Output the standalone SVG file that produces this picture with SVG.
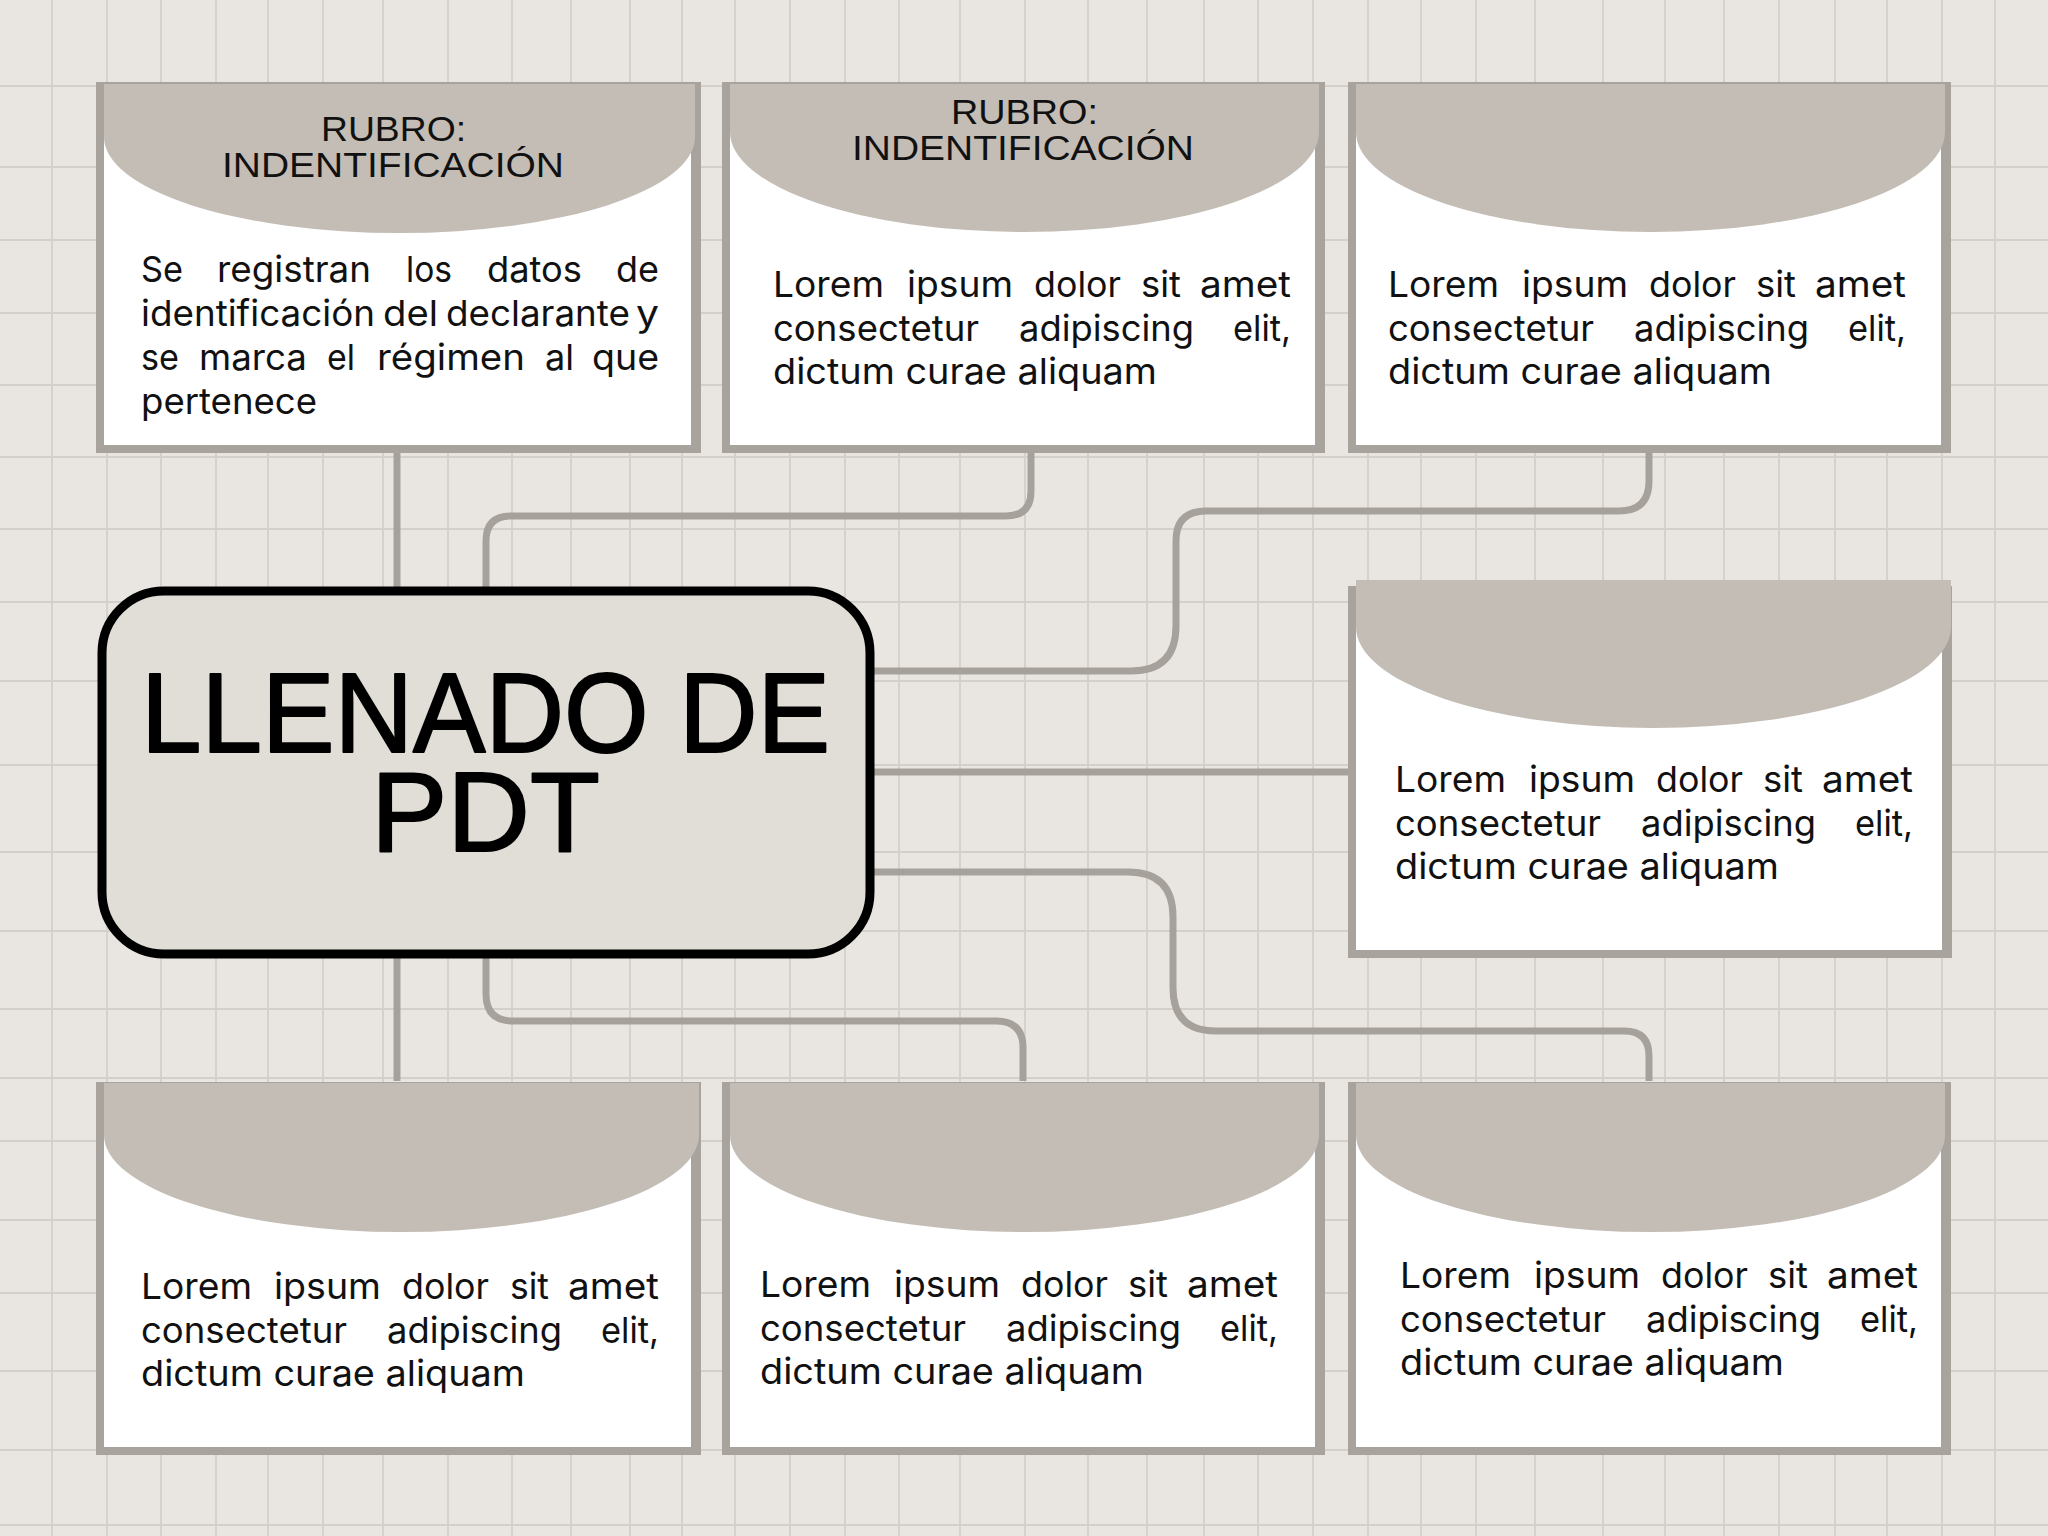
<svg xmlns="http://www.w3.org/2000/svg" width="2048" height="1536" viewBox="0 0 2048 1536">
<style>
.bg{fill:#e9e6e2}
.grid{stroke:#d3cfca;stroke-width:1.8;fill:none}
.conn{stroke:#a7a19b;stroke-width:7;fill:none}
.bd{fill:#a9a39d}
.in{fill:#ffffff}
.hdr{fill:#c4bdb6}
.center{fill:#e1ddd7;stroke:#000;stroke-width:9}
.body{font-family:Inter,"Liberation Sans",sans-serif;font-size:36px;fill:#111}
.hd{font-family:"Liberation Sans",Arial,sans-serif;font-size:35px;fill:#111}
.title{font-family:"Liberation Sans",Arial,sans-serif;font-size:114px;fill:#000;stroke:#000;stroke-width:2;stroke-linejoin:round}
</style>
<rect class="bg" x="0" y="0" width="2048" height="1536"/>
<path class="grid" d="M52 0V1536M107 0V1536M161 0V1536M216 0V1536M268 0V1536M323 0V1536M383 0V1536M448 0V1536M512 0V1536M571 0V1536M630 0V1536M682 0V1536M735 0V1536M790 0V1536M845 0V1536M899 0V1536M960 0V1536M1025 0V1536M1088 0V1536M1147 0V1536M1204 0V1536M1258 0V1536M1313 0V1536M1368 0V1536M1421 0V1536M1476 0V1536M1535 0V1536M1603 0V1536M1665 0V1536M1724 0V1536M1779 0V1536M1835 0V1536M1887 0V1536M1942 0V1536M1995 0V1536M0 86H2048M0 167H2048M0 240H2048M0 313H2048M0 385H2048M0 457H2048M0 529H2048M0 602H2048M0 681H2048M0 765H2048M0 852H2048M0 931H2048M0 1009H2048M0 1078H2048M0 1141H2048M0 1220H2048M0 1293H2048M0 1371H2048M0 1450H2048M0 1525H2048"/>
<g id="connectors">
<path class="conn" d="M397 453V1081"/>
<path class="conn" d="M1031 453V491Q1031 516 1006 516H511Q486 516 486 541V591"/>
<path class="conn" d="M1649 453V481Q1649 511 1619 511H1206Q1176 511 1176 541V626Q1176 671 1131 671H872"/>
<path class="conn" d="M872 772H1348"/>
<path class="conn" d="M872 872H1128Q1173 872 1173 917V988Q1173 1031 1216 1031H1624Q1649 1031 1649 1056V1081"/>
<path class="conn" d="M486 957V994Q486 1021 513 1021H996Q1023 1021 1023 1048V1081"/>
</g>
<g id="node-center">
<rect class="center" x="102" y="591" width="768" height="363" rx="62" ry="62"/>
<text class="title"><tspan x="141" y="752" textLength="689" lengthAdjust="spacingAndGlyphs">LLENADO DE</tspan>
<tspan x="371" y="851" textLength="229" lengthAdjust="spacingAndGlyphs">PDT</tspan></text>
</g>
<g id="node-1">
<rect class="bd" x="96" y="82" width="605" height="371"/>
<rect class="in" x="104" y="85" width="587" height="360"/>
<path class="hdr" d="M104 84H695V137A295.5 96 0 0 1 104 137Z"/>
<text class="hd"><tspan x="321" y="141" textLength="145" lengthAdjust="spacingAndGlyphs">RUBRO:</tspan>
<tspan x="222" y="177" textLength="342" lengthAdjust="spacingAndGlyphs">INDENTIFICACIÓN</tspan></text>
<text class="body"><tspan x="141" y="282" textLength="42" lengthAdjust="spacingAndGlyphs">Se</tspan> <tspan x="217" textLength="154" lengthAdjust="spacingAndGlyphs">registran</tspan> <tspan x="406" textLength="46" lengthAdjust="spacingAndGlyphs">los</tspan> <tspan x="487" textLength="95" lengthAdjust="spacingAndGlyphs">datos</tspan> <tspan x="616" textLength="43" lengthAdjust="spacingAndGlyphs">de</tspan>
<tspan x="141" y="326" textLength="234" lengthAdjust="spacingAndGlyphs">identificación</tspan> <tspan x="383" textLength="55" lengthAdjust="spacingAndGlyphs">del</tspan> <tspan x="446" textLength="184" lengthAdjust="spacingAndGlyphs">declarante</tspan> <tspan x="636" textLength="23" lengthAdjust="spacingAndGlyphs">y</tspan>
<tspan x="141" y="370" textLength="38" lengthAdjust="spacingAndGlyphs">se</tspan> <tspan x="199" textLength="108" lengthAdjust="spacingAndGlyphs">marca</tspan> <tspan x="327" textLength="28" lengthAdjust="spacingAndGlyphs">el</tspan> <tspan x="377" textLength="148" lengthAdjust="spacingAndGlyphs">régimen</tspan> <tspan x="545" textLength="29" lengthAdjust="spacingAndGlyphs">al</tspan> <tspan x="592" textLength="67" lengthAdjust="spacingAndGlyphs">que</tspan>
<tspan x="141" y="414" textLength="176" lengthAdjust="spacingAndGlyphs">pertenece</tspan></text>
</g>
<g id="node-2">
<rect class="bd" x="722" y="82" width="603" height="371"/>
<rect class="in" x="730" y="85" width="585" height="360"/>
<path class="hdr" d="M730 84H1319V132A294.5 100 0 0 1 730 132Z"/>
<text class="hd"><tspan x="951" y="124" textLength="147" lengthAdjust="spacingAndGlyphs">RUBRO:</tspan>
<tspan x="852" y="160" textLength="342" lengthAdjust="spacingAndGlyphs">INDENTIFICACIÓN</tspan></text>
<text class="body"><tspan x="773" y="297" textLength="111" lengthAdjust="spacingAndGlyphs">Lorem</tspan> <tspan x="907" textLength="106" lengthAdjust="spacingAndGlyphs">ipsum</tspan> <tspan x="1034" textLength="87" lengthAdjust="spacingAndGlyphs">dolor</tspan> <tspan x="1141" textLength="40" lengthAdjust="spacingAndGlyphs">sit</tspan> <tspan x="1200" textLength="91" lengthAdjust="spacingAndGlyphs">amet</tspan>
<tspan x="773" y="341" textLength="206" lengthAdjust="spacingAndGlyphs">consectetur</tspan> <tspan x="1019" textLength="175" lengthAdjust="spacingAndGlyphs">adipiscing</tspan> <tspan x="1233" textLength="58" lengthAdjust="spacingAndGlyphs">elit,</tspan>
<tspan x="773" y="384" textLength="384" lengthAdjust="spacingAndGlyphs">dictum curae aliquam</tspan></text>
</g>
<g id="node-3">
<rect class="bd" x="1348" y="82" width="603" height="371"/>
<rect class="in" x="1356" y="85" width="585" height="360"/>
<path class="hdr" d="M1356 84H1945V132A294.5 100 0 0 1 1356 132Z"/>
<text class="body"><tspan x="1388" y="297" textLength="111" lengthAdjust="spacingAndGlyphs">Lorem</tspan> <tspan x="1522" textLength="106" lengthAdjust="spacingAndGlyphs">ipsum</tspan> <tspan x="1649" textLength="87" lengthAdjust="spacingAndGlyphs">dolor</tspan> <tspan x="1756" textLength="40" lengthAdjust="spacingAndGlyphs">sit</tspan> <tspan x="1815" textLength="91" lengthAdjust="spacingAndGlyphs">amet</tspan>
<tspan x="1388" y="341" textLength="206" lengthAdjust="spacingAndGlyphs">consectetur</tspan> <tspan x="1634" textLength="175" lengthAdjust="spacingAndGlyphs">adipiscing</tspan> <tspan x="1848" textLength="58" lengthAdjust="spacingAndGlyphs">elit,</tspan>
<tspan x="1388" y="384" textLength="384" lengthAdjust="spacingAndGlyphs">dictum curae aliquam</tspan></text>
</g>
<g id="node-4">
<rect class="bd" x="1348" y="586" width="604" height="372"/>
<rect class="in" x="1356" y="589" width="586" height="361"/>
<path class="hdr" d="M1356 580H1951V627A297.5 101 0 0 1 1356 627Z"/>
<text class="body"><tspan x="1395" y="792" textLength="111" lengthAdjust="spacingAndGlyphs">Lorem</tspan> <tspan x="1529" textLength="106" lengthAdjust="spacingAndGlyphs">ipsum</tspan> <tspan x="1656" textLength="87" lengthAdjust="spacingAndGlyphs">dolor</tspan> <tspan x="1763" textLength="40" lengthAdjust="spacingAndGlyphs">sit</tspan> <tspan x="1822" textLength="91" lengthAdjust="spacingAndGlyphs">amet</tspan>
<tspan x="1395" y="836" textLength="206" lengthAdjust="spacingAndGlyphs">consectetur</tspan> <tspan x="1641" textLength="175" lengthAdjust="spacingAndGlyphs">adipiscing</tspan> <tspan x="1855" textLength="58" lengthAdjust="spacingAndGlyphs">elit,</tspan>
<tspan x="1395" y="879" textLength="384" lengthAdjust="spacingAndGlyphs">dictum curae aliquam</tspan></text>
</g>
<g id="node-5">
<rect class="bd" x="96" y="1082" width="605" height="373"/>
<rect class="in" x="104" y="1085" width="587" height="362"/>
<path class="hdr" d="M104 1083H699V1135A297.5 97 0 0 1 104 1135Z"/>
<text class="body"><tspan x="141" y="1299" textLength="111" lengthAdjust="spacingAndGlyphs">Lorem</tspan> <tspan x="274" textLength="107" lengthAdjust="spacingAndGlyphs">ipsum</tspan> <tspan x="402" textLength="87" lengthAdjust="spacingAndGlyphs">dolor</tspan> <tspan x="510" textLength="39" lengthAdjust="spacingAndGlyphs">sit</tspan> <tspan x="568" textLength="91" lengthAdjust="spacingAndGlyphs">amet</tspan>
<tspan x="141" y="1343" textLength="206" lengthAdjust="spacingAndGlyphs">consectetur</tspan> <tspan x="387" textLength="175" lengthAdjust="spacingAndGlyphs">adipiscing</tspan> <tspan x="601" textLength="58" lengthAdjust="spacingAndGlyphs">elit,</tspan>
<tspan x="141" y="1386" textLength="384" lengthAdjust="spacingAndGlyphs">dictum curae aliquam</tspan></text>
</g>
<g id="node-6">
<rect class="bd" x="722" y="1082" width="603" height="373"/>
<rect class="in" x="730" y="1085" width="585" height="362"/>
<path class="hdr" d="M730 1083H1319V1135A294.5 97 0 0 1 730 1135Z"/>
<text class="body"><tspan x="760" y="1297" textLength="111" lengthAdjust="spacingAndGlyphs">Lorem</tspan> <tspan x="894" textLength="106" lengthAdjust="spacingAndGlyphs">ipsum</tspan> <tspan x="1021" textLength="87" lengthAdjust="spacingAndGlyphs">dolor</tspan> <tspan x="1128" textLength="40" lengthAdjust="spacingAndGlyphs">sit</tspan> <tspan x="1187" textLength="91" lengthAdjust="spacingAndGlyphs">amet</tspan>
<tspan x="760" y="1341" textLength="206" lengthAdjust="spacingAndGlyphs">consectetur</tspan> <tspan x="1006" textLength="175" lengthAdjust="spacingAndGlyphs">adipiscing</tspan> <tspan x="1220" textLength="58" lengthAdjust="spacingAndGlyphs">elit,</tspan>
<tspan x="760" y="1384" textLength="384" lengthAdjust="spacingAndGlyphs">dictum curae aliquam</tspan></text>
</g>
<g id="node-7">
<rect class="bd" x="1348" y="1082" width="603" height="373"/>
<rect class="in" x="1356" y="1085" width="585" height="362"/>
<path class="hdr" d="M1356 1083H1945V1135A294.5 97 0 0 1 1356 1135Z"/>
<text class="body"><tspan x="1400" y="1288" textLength="111" lengthAdjust="spacingAndGlyphs">Lorem</tspan> <tspan x="1534" textLength="106" lengthAdjust="spacingAndGlyphs">ipsum</tspan> <tspan x="1661" textLength="87" lengthAdjust="spacingAndGlyphs">dolor</tspan> <tspan x="1768" textLength="40" lengthAdjust="spacingAndGlyphs">sit</tspan> <tspan x="1827" textLength="91" lengthAdjust="spacingAndGlyphs">amet</tspan>
<tspan x="1400" y="1332" textLength="206" lengthAdjust="spacingAndGlyphs">consectetur</tspan> <tspan x="1646" textLength="175" lengthAdjust="spacingAndGlyphs">adipiscing</tspan> <tspan x="1860" textLength="58" lengthAdjust="spacingAndGlyphs">elit,</tspan>
<tspan x="1400" y="1375" textLength="384" lengthAdjust="spacingAndGlyphs">dictum curae aliquam</tspan></text>
</g>
</svg>
